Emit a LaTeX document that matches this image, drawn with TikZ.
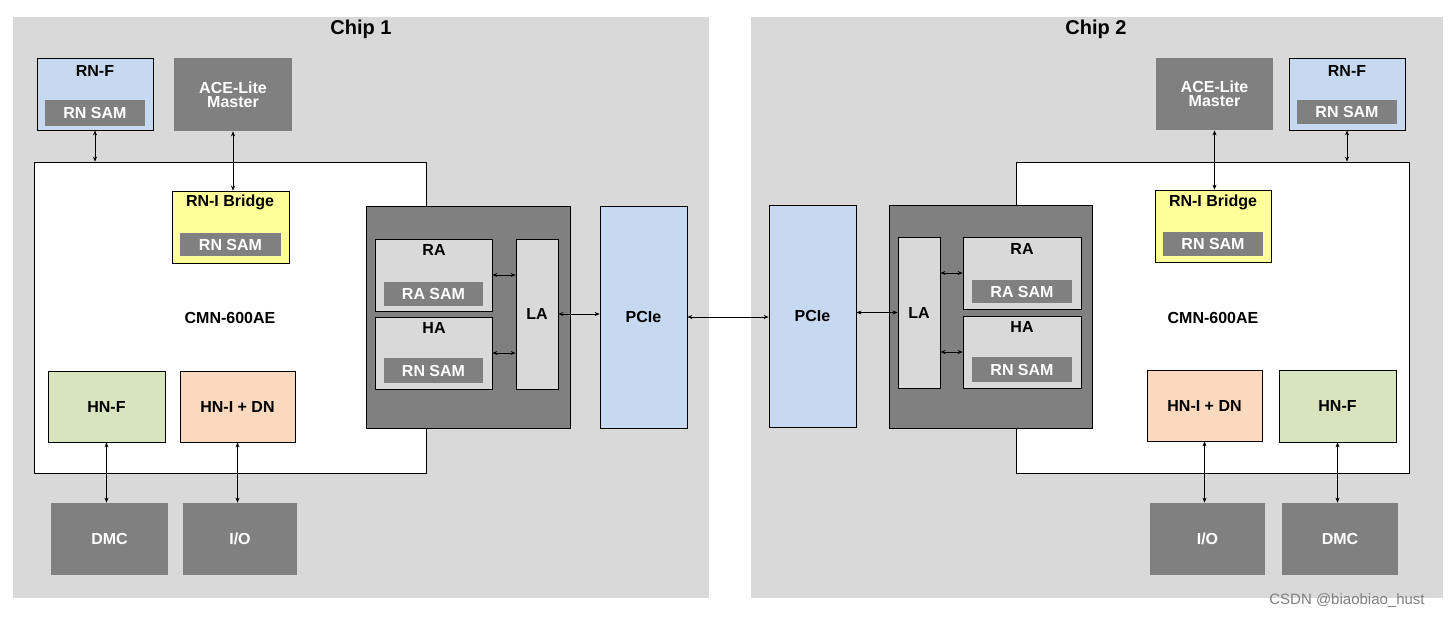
\documentclass[tikz,border=0pt]{standalone}
\usepackage{fontspec}
\setmainfont{Liberation Sans}
\usetikzlibrary{arrows.meta}
\definecolor{chipbg}{HTML}{D9D9D9}
\definecolor{dgray}{HTML}{808080}
\definecolor{lgray}{HTML}{D9D9D9}
\definecolor{blu}{HTML}{C6D9F1}
\definecolor{yel}{HTML}{FFFF99}
\definecolor{grn}{HTML}{D7E4BD}
\definecolor{pch}{HTML}{FAD9BE}
\newcommand{\bx}[7]{\node[#6, minimum width={(#4-#2)*1pt}, minimum height={(#5-#3)*1pt}] (#1) at ({(#2+#4)/2},{(#3+#5)/2}) {#7};}
\begin{document}
\begin{tikzpicture}[x=1pt,y=-1pt,
  base/.style={draw, inner sep=0pt, font=\fontsize{16}{18}\selectfont\bfseries, line width=0.8pt},
  gbox/.style={base, draw=none, fill=dgray, text=white},
  blk/.style={base, fill=dgray, text=white},
  sam/.style={base, draw=none, fill=dgray, text=white},
  lbox/.style={base, fill=lgray},
  bbox/.style={base, fill=blu},
  ybox/.style={base, fill=yel},
  grbox/.style={base, fill=grn},
  pbox/.style={base, fill=pch},
  wbox/.style={base, fill=white},
  dbox/.style={base, fill=dgray},
  txt/.style={inner sep=0pt, font=\fontsize{16}{18}\selectfont\bfseries},
  conn/.style={{Stealth[length=5pt,width=4pt]}-{Stealth[length=5pt,width=4pt]}, line width=0.6pt}]
\useasboundingbox (0,0) rectangle (1455,619);
\fill[white] (0,0) rectangle (1455,619);
% Chip 1
\bx{chip1}{13}{17}{709}{598}{base,draw=none,fill=chipbg}{}
\node[txt, font=\fontsize{20}{22}\selectfont\bfseries] (t1) at (361,29) {Chip 1};
\bx{cmn1}{34}{162}{426}{473}{wbox}{}
\node[txt] (cmnt1) at (230,318) {CMN-600AE};
\bx{rnf1}{37}{58}{153}{130}{bbox}{}
\node[txt] (rnft1) at (95,71) {RN-F};
\bx{rnfs1}{45}{100}{145}{126}{sam}{RN SAM}
\bx{ace1}{174}{58}{292}{131}{gbox}{\shortstack{ACE-Lite\\Master}}
\bx{rni1}{172}{191}{289}{263}{ybox}{}
\node[txt] (rnit1) at (230,202) {RN-I Bridge};
\bx{rnis1}{180}{233}{281}{256}{sam}{RN SAM}
\bx{hnf1}{48}{371}{165}{442}{grbox}{HN-F}
\bx{hni1}{180}{371}{295}{442}{pbox}{HN-I + DN}
\bx{dmc1}{51}{503}{168}{575}{gbox}{DMC}
\bx{io1}{183}{503}{297}{575}{gbox}{I/O}
\bx{dk1}{366}{206}{570}{428}{dbox}{}
\bx{ra1}{375}{239}{492}{311}{lbox}{}
\node[txt] (rat1) at (434,250) {RA};
\bx{ras1}{384}{282}{483}{306}{sam}{RA SAM}
\bx{ha1}{375}{317}{492}{389}{lbox}{}
\node[txt] (hat1) at (434,328) {HA};
\bx{has1}{384}{358}{483}{383}{sam}{RN SAM}
\bx{la1}{516}{239}{558}{389}{lbox}{LA}
\bx{pcie1}{600}{206}{687}{428}{bbox}{PCIe}
% Chip 2
\bx{chip2}{751}{17}{1443}{598}{base,draw=none,fill=chipbg}{}
\node[txt, font=\fontsize{20}{22}\selectfont\bfseries] (t2) at (1096,29) {Chip 2};
\bx{cmn2}{1016}{162}{1409}{473}{wbox}{}
\node[txt] (cmnt2) at (1213,318) {CMN-600AE};
\bx{rnf2}{1289}{58}{1405}{130}{bbox}{}
\node[txt] (rnft2) at (1347,71) {RN-F};
\bx{rnfs2}{1297}{100}{1397}{124}{sam}{RN SAM}
\bx{ace2}{1156}{58}{1273}{130}{gbox}{\shortstack{ACE-Lite\\Master}}
\bx{rni2}{1155}{190}{1271}{262}{ybox}{}
\node[txt] (rnit2) at (1213,202) {RN-I Bridge};
\bx{rnis2}{1163}{232}{1263}{256}{sam}{RN SAM}
\bx{hni2}{1147}{370}{1262}{441}{pbox}{HN-I + DN}
\bx{hnf2}{1279}{370}{1396}{442}{grbox}{HN-F}
\bx{io2}{1150}{503}{1265}{575}{gbox}{I/O}
\bx{dmc2}{1282}{503}{1398}{575}{gbox}{DMC}
\bx{dk2}{889}{205}{1092}{428}{dbox}{}
\bx{la2}{898}{237}{940}{388}{lbox}{LA}
\bx{ra2}{963}{237}{1081}{309}{lbox}{}
\node[txt] (rat2) at (1022,249) {RA};
\bx{ras2}{972}{280}{1072}{303}{sam}{RA SAM}
\bx{ha2}{963}{316}{1081}{388}{lbox}{}
\node[txt] (hat2) at (1022,327) {HA};
\bx{has2}{972}{357}{1072}{382}{sam}{RN SAM}
\bx{pcie2}{769}{205}{856}{427}{bbox}{PCIe}
\node[inner sep=0pt, text=gray, font=\fontsize{15}{17}\selectfont] (wm) at (1347,601) {CSDN @biaobiao\_hust};
% connectors
\draw[conn] (rnf1.south) -- (rnf1.south |- cmn1.north);
\draw[conn] (ace1.south) -- (ace1.south |- rni1.north);
\draw[conn] (hnf1.south) -- (hnf1.south |- dmc1.north);
\draw[conn] (hni1.south) -- (hni1.south |- io1.north);
\draw[conn] (ra1.east) -- (ra1.east -| la1.west);
\draw[conn] (ha1.east) -- (ha1.east -| la1.west);
\draw[conn] (la1.east) -- (la1.east -| pcie1.west);
\draw[conn] (pcie1.east) -- (pcie1.east -| pcie2.west);
\draw[conn] (rnf2.south) -- (rnf2.south |- cmn2.north);
\draw[conn] (ace2.south) -- (ace2.south |- rni2.north);
\draw[conn] (hnf2.south) -- (hnf2.south |- dmc2.north);
\draw[conn] (hni2.south) -- (hni2.south |- io2.north);
\draw[conn] (ra2.west) -- (ra2.west -| la2.east);
\draw[conn] (ha2.west) -- (ha2.west -| la2.east);
\draw[conn] (la2.west) -- (la2.west -| pcie2.east);
\end{tikzpicture}
\end{document}
